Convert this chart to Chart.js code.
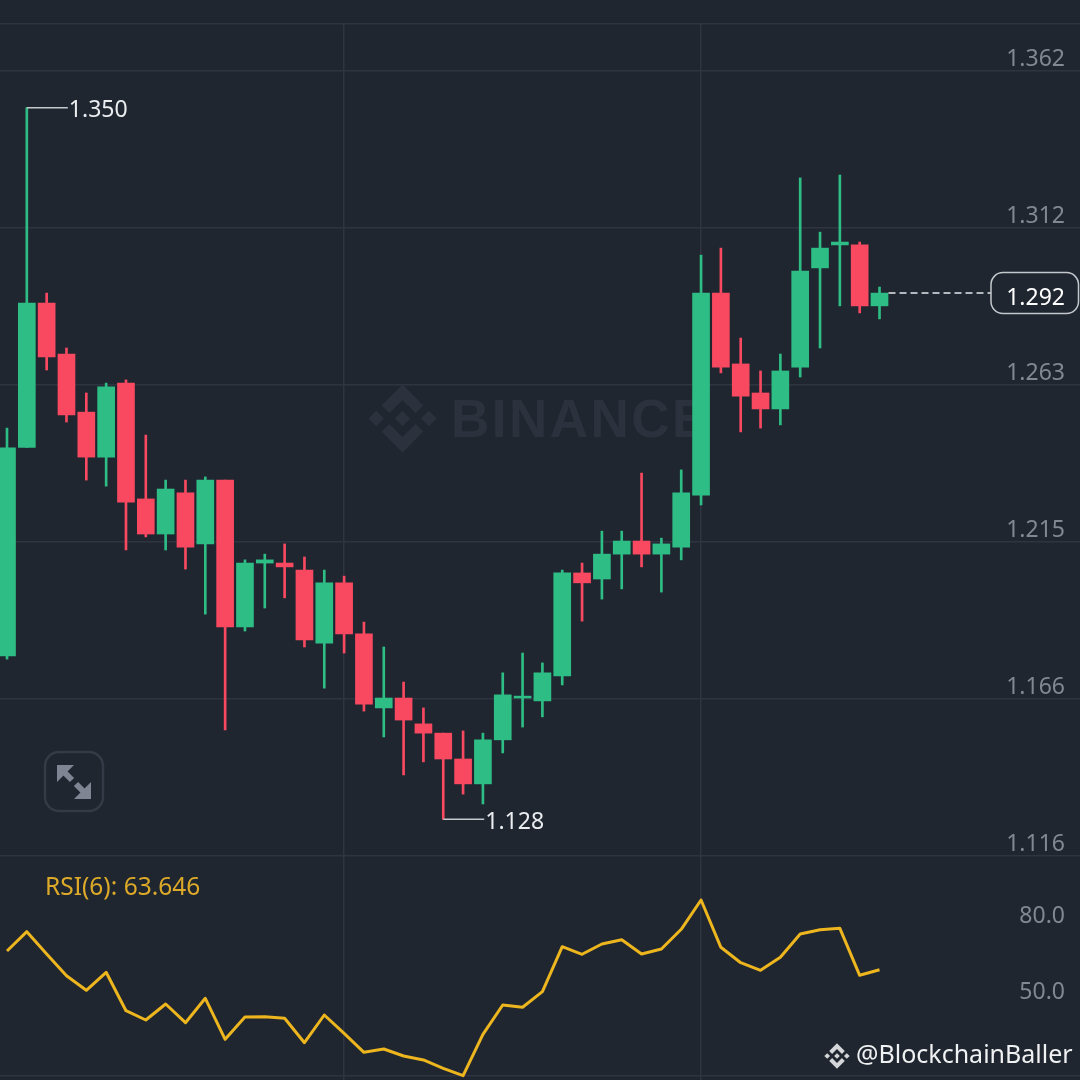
<!DOCTYPE html>
<html>
<head>
<meta charset="utf-8">
<title>RSI candles</title>
<script src="https://cdn.jsdelivr.net/npm/chart.js@4/dist/chart.umd.min.js"></script>
<style>
    html, body { margin: 0; padding: 0; background: #1f2630; }
    #chart { display: block; width: 1080px; height: 1080px; }
</style>
</head>
<body>
<canvas id="chart" width="1080" height="1080"></canvas>
<script>
const opens = [1.1787, 1.2440, 1.2893, 1.2733, 1.2551, 1.2410, 1.2642, 1.2279, 1.2169, 1.2298, 1.2138, 1.2338, 1.1878, 1.2078, 1.2078, 1.2056, 1.1827, 1.2016, 1.1856, 1.1624, 1.1655, 1.1574, 1.1545, 1.1464, 1.1386, 1.1524, 1.1655, 1.1646, 1.1724, 1.2047, 1.2028, 1.2106, 1.2147, 1.2106, 1.2128, 1.2291, 1.2924, 1.2702, 1.2611, 1.2561, 1.2692, 1.3003, 1.3075, 1.3075, 1.2884];
const highs = [1.2501, 1.3505, 1.2924, 1.2752, 1.2611, 1.2642, 1.2652, 1.2479, 1.2338, 1.2338, 1.2348, 1.2338, 1.2088, 1.2106, 1.2138, 1.2097, 1.2056, 1.2037, 1.1893, 1.1815, 1.1705, 1.1624, 1.1545, 1.1552, 1.1545, 1.1734, 1.1796, 1.1765, 1.2056, 1.2078, 1.2178, 1.2178, 1.2360, 1.2156, 1.2370, 1.3043, 1.3065, 1.2783, 1.2680, 1.2733, 1.3285, 1.3115, 1.3294, 1.3084, 1.2943];
const lows = [1.1777, 1.2440, 1.2683, 1.2520, 1.2338, 1.2319, 1.2119, 1.2160, 1.2119, 1.2059, 1.1918, 1.1555, 1.1865, 1.1937, 1.1969, 1.1815, 1.1686, 1.1796, 1.1614, 1.1533, 1.1414, 1.1455, 1.1275, 1.1354, 1.1323, 1.1483, 1.1564, 1.1596, 1.1696, 1.1896, 1.1965, 1.1997, 1.2066, 1.1987, 1.2088, 1.2260, 1.2674, 1.2489, 1.2501, 1.2511, 1.2661, 1.2752, 1.2884, 1.2862, 1.2843];
const closes = [1.2439, 1.2893, 1.2724, 1.2542, 1.2410, 1.2630, 1.2269, 1.2169, 1.2310, 1.2128, 1.2338, 1.1878, 1.2078, 1.2088, 1.2066, 1.1837, 1.2016, 1.1856, 1.1636, 1.1655, 1.1586, 1.1545, 1.1464, 1.1386, 1.1524, 1.1665, 1.1661, 1.1734, 1.2047, 1.2016, 1.2106, 1.2147, 1.2106, 1.2138, 1.2298, 1.2924, 1.2692, 1.2601, 1.2561, 1.2680, 1.2993, 1.3065, 1.3084, 1.2884, 1.2924];
const rsiValues = [70.98, 78.55, 69.8, 61.29, 55.57, 62.63, 47.57, 43.92, 50.2, 42.86, 52.43, 36.35, 45.1, 45.22, 44.59, 35.02, 45.88, 38.71, 31.25, 32.55, 29.8, 28.24, 24.98, 22.08, 38.31, 49.8, 48.9, 55.02, 72.67, 69.69, 73.73, 75.41, 69.8, 71.76, 79.49, 90.98, 72.43, 66.39, 63.41, 68.51, 77.65, 79.33, 79.88, 61.45, 63.646];

const priceGridValues = [1.37673, 1.3620, 1.3128, 1.2636, 1.2144, 1.1652, 1.1160, 1.04706];
const priceTickLabels = ['', '1.362', '1.312', '1.263', '1.215', '1.166', '1.116', ''];
const rsiGridValues = [80, 50];
const rsiTickLabels = ['80.0', '50.0'];
const timeGridIndexes = [17, 35];

const highIndex = 1;
const lowIndex = 22;
const lastIndex = 44;
const highLabel = '1.350';
const lowLabel = '1.128';
const lastLabel = '1.292';
const rsiLabel = 'RSI(6): 63.646';
const handleLabel = '@BlockchainBaller';

const BG = '#1f2630';
const GRID = '#2e3440';
const GREEN = '#2ebd85';
const RED = '#f84960';
const AXIS_TEXT = '#818893';
const FONT = '"Noto Sans"';

function candleColor(i) {
    return closes[i] >= opens[i] ? GREEN : RED;
}

// mirrored axes must not take any room from the plot
function noAxisRoom(axis) {
    axis.width = 0;
    axis.paddingTop = 0;
    axis.paddingBottom = 0;
}

// binance mark, drawn around a centre point, s = scale of the 126.6 unit logo
function drawLogo(ctx, cx, cy, s, color) {
    const shapes = [
        [[-24.57, -10.1], [0, -34.67], [24.58, -10.09], [38.88, -24.39], [0, -63.3], [-38.87, -24.43]],
        [[-24.57, 10.1], [0, 34.67], [24.58, 10.09], [38.88, 24.39], [0, 63.3], [-38.87, 24.43]],
        [[-63.3, 0], [-49, -14.3], [-34.7, 0], [-49, 14.3]],
        [[63.3, 0], [49, -14.3], [34.7, 0], [49, 14.3]],
        [[-14.3, 0], [0, -14.3], [14.3, 0], [0, 14.3]],
    ];
    ctx.fillStyle = color;
    shapes.forEach(function (pts) {
        ctx.beginPath();
        pts.forEach(function (p, i) {
            if (i === 0) ctx.moveTo(cx + p[0] * s, cy + p[1] * s);
            else ctx.lineTo(cx + p[0] * s, cy + p[1] * s);
        });
        ctx.closePath();
        ctx.fill();
    });
}

function drawExpandButton(ctx) {
    ctx.save();
    ctx.strokeStyle = '#343a46';
    ctx.lineWidth = 2.5;
    ctx.beginPath();
    ctx.roundRect(45, 752, 58, 59, 14);
    ctx.stroke();
    ctx.fillStyle = '#7f8592';
    ctx.strokeStyle = '#7f8592';
    ctx.beginPath();
    ctx.moveTo(57, 765); ctx.lineTo(74, 765); ctx.lineTo(57, 782);
    ctx.closePath();
    ctx.fill();
    ctx.beginPath();
    ctx.moveTo(91, 799); ctx.lineTo(74, 799); ctx.lineTo(91, 782);
    ctx.closePath();
    ctx.fill();
    ctx.lineWidth = 6;
    ctx.beginPath();
    ctx.moveTo(63, 771); ctx.lineTo(72, 780);
    ctx.moveTo(76, 784); ctx.lineTo(85, 793);
    ctx.stroke();
    ctx.restore();
}

const watermark = {
    id: 'watermark',
    beforeDatasetsDraw(chart) {
        const ctx = chart.ctx;
        ctx.save();
        drawLogo(ctx, 402.5, 418.5, 0.537, '#2c323d');
        ctx.fillStyle = '#2c323d';
        ctx.font = 'bold 53px "Liberation Sans"';
        ctx.letterSpacing = '2.5px';
        ctx.textAlign = 'left';
        ctx.textBaseline = 'middle';
        ctx.fillText('BINANCE', 451, 422);
        ctx.restore();
    },
};

const annotations = {
    id: 'annotations',
    afterDatasetsDraw(chart) {
        const ctx = chart.ctx;
        const x = chart.scales.x;
        const y = chart.scales.yPrice;
        ctx.save();
        ctx.font = '23px ' + FONT;
        ctx.textBaseline = 'middle';
        ctx.textAlign = 'left';

        // max / min markers
        ctx.strokeStyle = '#c4c8cc';
        ctx.lineWidth = 1.5;
        const hx = x.getPixelForValue(highIndex);
        const hy = y.getPixelForValue(highs[highIndex]);
        ctx.beginPath();
        ctx.moveTo(hx, hy);
        ctx.lineTo(hx + 41, hy);
        ctx.stroke();
        ctx.fillStyle = '#eaecef';
        ctx.fillText(highLabel, hx + 42, hy + 3);

        const lx = x.getPixelForValue(lowIndex);
        const ly = y.getPixelForValue(lows[lowIndex]);
        ctx.beginPath();
        ctx.moveTo(lx, ly);
        ctx.lineTo(lx + 41, ly);
        ctx.stroke();
        ctx.fillText(lowLabel, lx + 42, ly + 3);

        // last price line + tag
        const px = x.getPixelForValue(lastIndex) + 9;
        const py = y.getPixelForValue(closes[lastIndex]);
        ctx.strokeStyle = '#e6e8ea';
        ctx.setLineDash([7, 4]);
        ctx.beginPath();
        ctx.moveTo(px, py);
        ctx.lineTo(991, py);
        ctx.stroke();
        ctx.setLineDash([]);
        ctx.strokeStyle = '#c4c8cc';
        ctx.fillStyle = BG;
        ctx.beginPath();
        ctx.roundRect(991, py - 20.5, 87.5, 41, 12);
        ctx.fill();
        ctx.stroke();
        ctx.fillStyle = '#ffffff';
        ctx.textAlign = 'right';
        ctx.fillText(lastLabel, 1065, py + 5);

        // rsi title
        ctx.textAlign = 'left';
        ctx.fillStyle = '#dca928';
        ctx.font = '24.5px ' + FONT;
        ctx.fillText(rsiLabel, 45, 888.5);

        drawExpandButton(ctx);

        drawLogo(ctx, 837, 1056, 0.2, '#d4d6d9');
        ctx.fillStyle = '#f0f1f2';
        ctx.font = '25px ' + FONT;
        ctx.fillText(handleLabel, 856, 1056);
        ctx.restore();
    },
};

const xIndexes = opens.map(function (_, i) { return i; });

new Chart(document.getElementById('chart').getContext('2d'), {
    type: 'bar',
    data: {
        datasets: [
            {
                type: 'line',
                label: 'RSI(6)',
                data: xIndexes.map(function (i) { return { x: i, y: rsiValues[i] }; }),
                yAxisID: 'yRsi',
                borderColor: '#edb61f',
                borderWidth: 3,
                pointRadius: 0,
                tension: 0,
                borderJoinStyle: 'round',
                order: 0,
            },
            {
                label: 'body',
                data: xIndexes.map(function (i) { return { x: i, y: [opens[i], closes[i]] }; }),
                yAxisID: 'yPrice',
                barThickness: 17,
                grouped: false,
                backgroundColor: function (ctx) { return candleColor(ctx.dataIndex); },
                order: 1,
            },
            {
                label: 'wick',
                data: xIndexes.map(function (i) { return { x: i, y: [lows[i], highs[i]] }; }),
                yAxisID: 'yPrice',
                barThickness: 2,
                grouped: false,
                backgroundColor: function (ctx) { return candleColor(ctx.dataIndex); },
                order: 2,
            },
        ],
    },
    options: {
        responsive: false,
        animation: false,
        devicePixelRatio: 1,
        layout: { padding: { top: 24, left: 0, right: 0, bottom: 0 } },
        plugins: { legend: { display: false }, tooltip: { enabled: false } },
        scales: {
            x: {
                type: 'linear',
                offset: false,
                min: -0.353,
                max: 54.11,
                afterBuildTicks: function (axis) {
                    axis.ticks = timeGridIndexes.map(function (v) { return { value: v }; });
                },
                ticks: { display: false },
                border: { display: false },
                grid: { offset: false, color: GRID, lineWidth: 1.5, drawTicks: false },
            },
            yPrice: {
                type: 'linear',
                position: 'right',
                min: 1.0458,
                max: 1.37673,
                afterBuildTicks: function (axis) {
                    axis.ticks = priceGridValues.map(function (v) { return { value: v }; });
                },
                afterFit: noAxisRoom,
                ticks: {
                    mirror: true,
                    padding: -15,
                    labelOffset: -12,
                    autoSkip: false,
                    color: AXIS_TEXT,
                    font: { family: 'Noto Sans', size: 23 },
                    callback: function (value, index) { return priceTickLabels[index]; },
                },
                border: { display: false },
                grid: { color: GRID, lineWidth: 1.5, drawTicks: false },
            },
            yRsi: {
                type: 'linear',
                position: 'right',
                min: 20.39,
                max: 434.5,
                afterBuildTicks: function (axis) {
                    axis.ticks = rsiGridValues.map(function (v) { return { value: v }; });
                },
                afterFit: noAxisRoom,
                ticks: {
                    mirror: true,
                    padding: -15,
                    labelOffset: -12,
                    autoSkip: false,
                    color: AXIS_TEXT,
                    font: { family: 'Noto Sans', size: 23 },
                    callback: function (value, index) { return rsiTickLabels[index]; },
                },
                border: { display: false },
                grid: { display: false, drawTicks: false },
            },
        },
    },
    plugins: [watermark, annotations, { id: 'bg', beforeDraw(chart) {
        chart.ctx.save();
        chart.ctx.fillStyle = BG;
        chart.ctx.fillRect(0, 0, chart.width, chart.height);
        chart.ctx.restore();
    } }],
});
</script>
</body>
</html>
